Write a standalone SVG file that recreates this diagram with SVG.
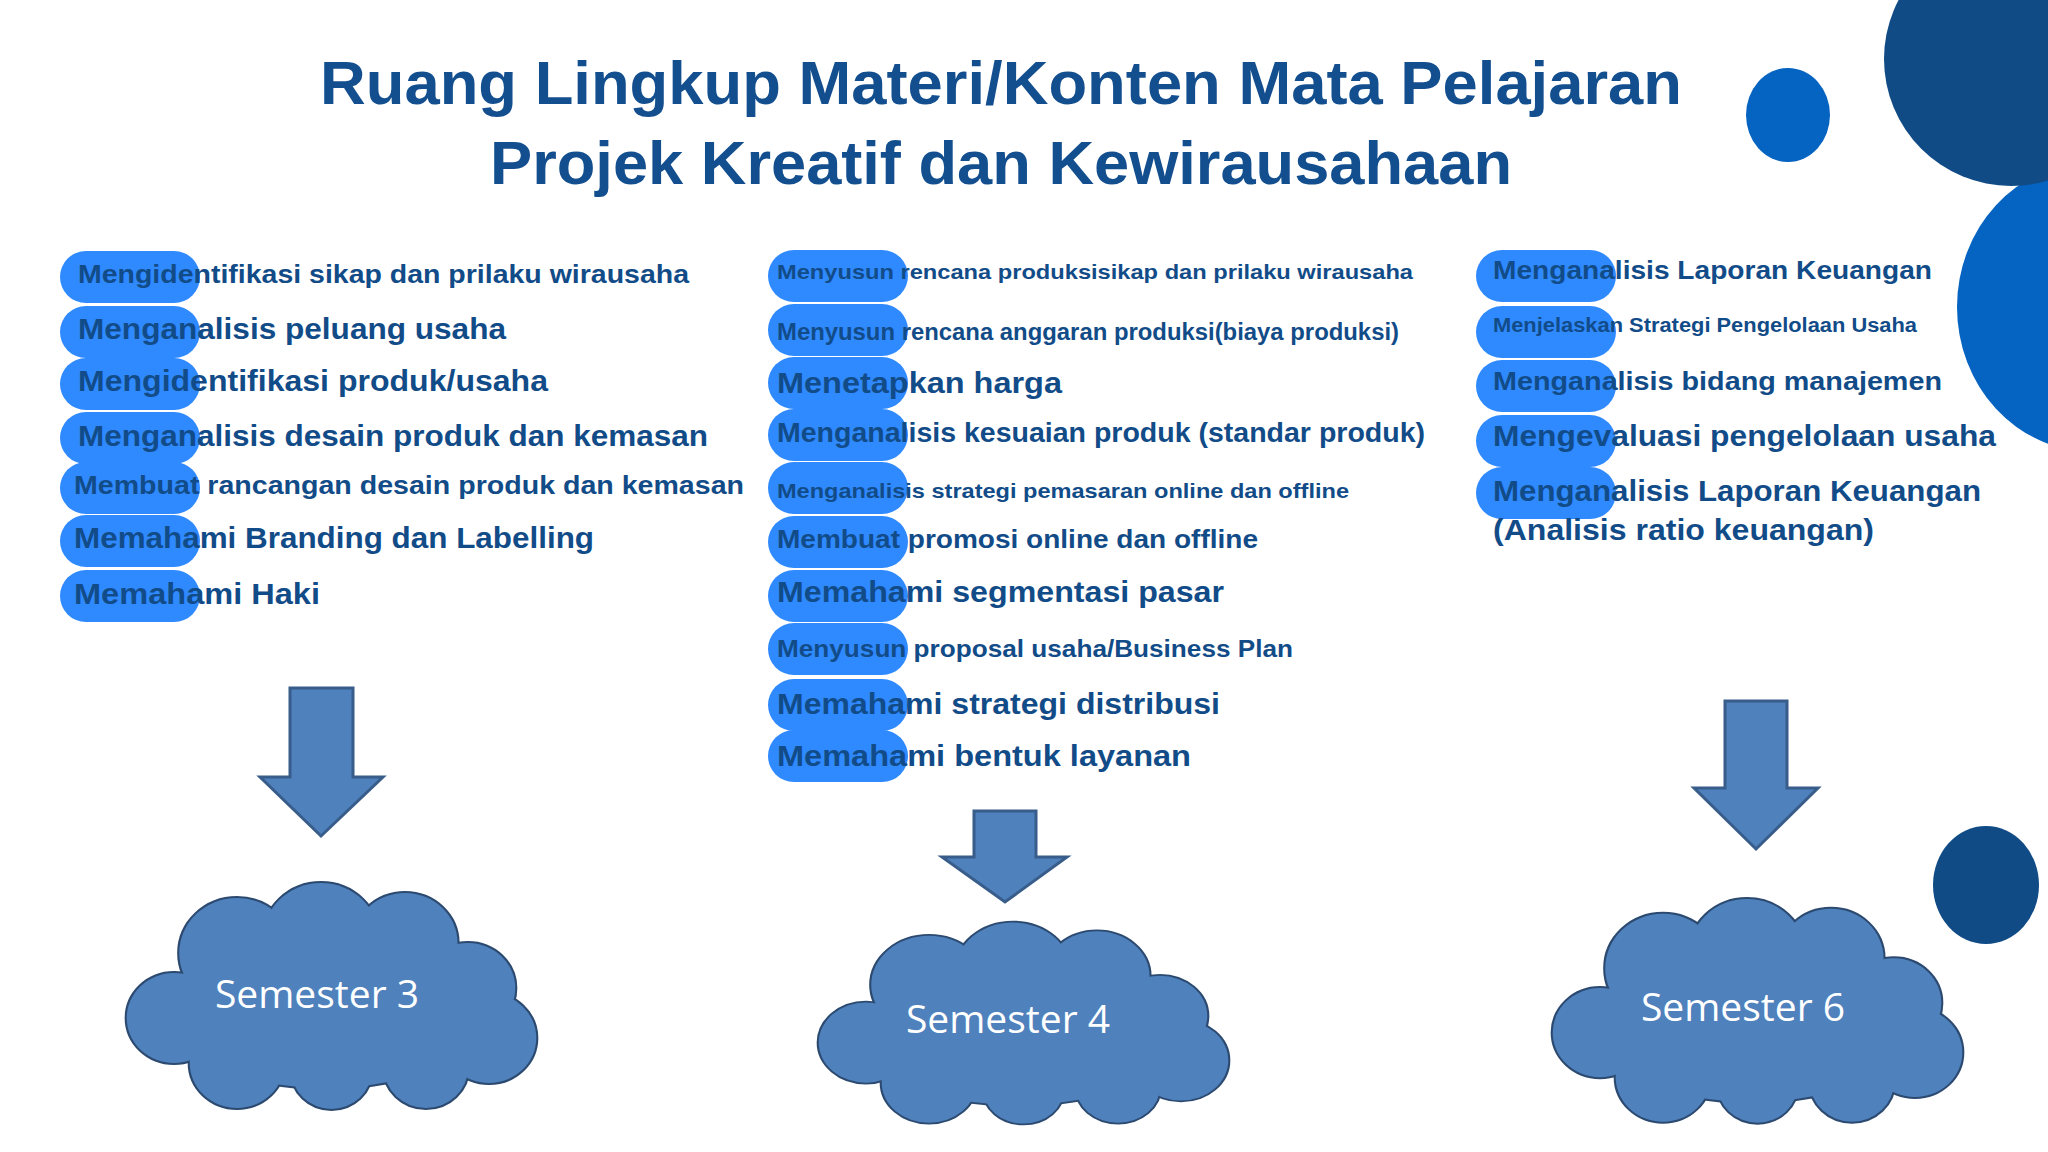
<svg xmlns="http://www.w3.org/2000/svg" xmlns:xlink="http://www.w3.org/1999/xlink" width="2048" height="1152" viewBox="0 0 2048 1152">
<style>
.t{font-family:"Liberation Sans",Arial,sans-serif;font-weight:bold;fill:#124c88}
.ti{font-family:"Liberation Sans",Arial,sans-serif;font-weight:bold;fill:#134f8f;font-size:62px}
.p{fill:#2f89ff}
.ar{fill:#4f81bd;stroke:#385d8a;stroke-width:3}
.cs{fill:#4f81bd;stroke:#2c4a70;stroke-width:4}
.cf{fill:#4f81bd}
.st{font-family:"Open Sans","Liberation Sans",sans-serif;font-size:39px;fill:#ffffff;text-anchor:middle}
</style>
<defs>
<g id="cloud">
<g class="cs">
<circle cx="60" cy="140" r="45"/><circle cx="120" cy="75" r="55"/><circle cx="200" cy="60" r="55"/><circle cx="280" cy="65" r="50"/><circle cx="340" cy="110" r="45"/><circle cx="360" cy="160" r="45"/><circle cx="300" cy="190" r="40"/><circle cx="210" cy="193" r="38"/><circle cx="120" cy="185" r="45"/><ellipse cx="205" cy="135" rx="150" ry="75"/>
</g>
<g class="cf">
<circle cx="60" cy="140" r="45"/><circle cx="120" cy="75" r="55"/><circle cx="200" cy="60" r="55"/><circle cx="280" cy="65" r="50"/><circle cx="340" cy="110" r="45"/><circle cx="360" cy="160" r="45"/><circle cx="300" cy="190" r="40"/><circle cx="210" cy="193" r="38"/><circle cx="120" cy="185" r="45"/><ellipse cx="205" cy="135" rx="150" ry="75"/>
</g>
</g>
</defs>
<rect width="2048" height="1152" fill="#ffffff"/>
<g id="decor">
<ellipse cx="2090" cy="307" rx="133" ry="144" fill="#0563c1"/>
<circle cx="2011" cy="59" r="127" fill="#114b86"/>
<ellipse cx="1788" cy="115" rx="42" ry="47" fill="#0563c1"/>
<ellipse cx="1986" cy="885" rx="53" ry="59" fill="#114b86"/>
</g>
<g id="title">
<text class="ti" x="320" y="104" textLength="1362" lengthAdjust="spacingAndGlyphs">Ruang Lingkup Materi/Konten Mata Pelajaran</text>
<text class="ti" x="490" y="184" textLength="1022" lengthAdjust="spacingAndGlyphs">Projek Kreatif dan Kewirausahaan</text>
</g>
<g id="col1">
<rect class="p" x="60" y="251" width="140" height="52" rx="26"/>
<rect class="p" x="60" y="306" width="140" height="52" rx="26"/>
<rect class="p" x="60" y="358" width="140" height="52" rx="26"/>
<rect class="p" x="60" y="412" width="140" height="52" rx="26"/>
<rect class="p" x="60" y="462" width="140" height="52" rx="26"/>
<rect class="p" x="60" y="515" width="140" height="52" rx="26"/>
<rect class="p" x="60" y="570" width="140" height="52" rx="26"/>
<text class="t" x="78" y="283" font-size="25" textLength="611" lengthAdjust="spacingAndGlyphs">Mengidentifikasi sikap dan prilaku wirausaha</text>
<text class="t" x="78" y="339" font-size="29" textLength="428" lengthAdjust="spacingAndGlyphs">Menganalisis peluang usaha</text>
<text class="t" x="78" y="391" font-size="29" textLength="470" lengthAdjust="spacingAndGlyphs">Mengidentifikasi produk/usaha</text>
<text class="t" x="78" y="446" font-size="29" textLength="630" lengthAdjust="spacingAndGlyphs">Menganalisis desain produk dan kemasan</text>
<text class="t" x="74" y="494" font-size="25" textLength="670" lengthAdjust="spacingAndGlyphs">Membuat rancangan desain produk dan kemasan</text>
<text class="t" x="74" y="548" font-size="29" textLength="520" lengthAdjust="spacingAndGlyphs">Memahami Branding dan Labelling</text>
<text class="t" x="74" y="604" font-size="29" textLength="246" lengthAdjust="spacingAndGlyphs">Memahami Haki</text>
</g>
<g id="col2">
<rect class="p" x="768" y="250" width="140" height="52" rx="26"/>
<rect class="p" x="768" y="304" width="140" height="52" rx="26"/>
<rect class="p" x="768" y="357" width="140" height="52" rx="26"/>
<rect class="p" x="768" y="409" width="140" height="52" rx="26"/>
<rect class="p" x="768" y="462" width="140" height="52" rx="26"/>
<rect class="p" x="768" y="516" width="140" height="52" rx="26"/>
<rect class="p" x="768" y="570" width="140" height="52" rx="26"/>
<rect class="p" x="768" y="623" width="140" height="52" rx="26"/>
<rect class="p" x="768" y="679" width="140" height="52" rx="26"/>
<rect class="p" x="768" y="730" width="140" height="52" rx="26"/>
<text class="t" x="777" y="279" font-size="21" textLength="636" lengthAdjust="spacingAndGlyphs">Menyusun rencana produksisikap dan prilaku wirausaha</text>
<text class="t" x="777" y="340" font-size="23" textLength="622" lengthAdjust="spacingAndGlyphs">Menyusun rencana anggaran produksi(biaya produksi)</text>
<text class="t" x="777" y="393" font-size="30" textLength="285" lengthAdjust="spacingAndGlyphs">Menetapkan harga</text>
<text class="t" x="777" y="442" font-size="28" textLength="648" lengthAdjust="spacingAndGlyphs">Menganalisis kesuaian produk (standar produk)</text>
<text class="t" x="777" y="498" font-size="21" textLength="572" lengthAdjust="spacingAndGlyphs">Menganalisis strategi pemasaran online dan offline</text>
<text class="t" x="777" y="548" font-size="26" textLength="481" lengthAdjust="spacingAndGlyphs">Membuat promosi online dan offline</text>
<text class="t" x="777" y="602" font-size="29" textLength="447" lengthAdjust="spacingAndGlyphs">Memahami segmentasi pasar</text>
<text class="t" x="777" y="657" font-size="24" textLength="516" lengthAdjust="spacingAndGlyphs">Menyusun proposal usaha/Business Plan</text>
<text class="t" x="777" y="714" font-size="29" textLength="443" lengthAdjust="spacingAndGlyphs">Memahami strategi distribusi</text>
<text class="t" x="777" y="766" font-size="29" textLength="414" lengthAdjust="spacingAndGlyphs">Memahami bentuk layanan</text>
</g>
<g id="col3">
<rect class="p" x="1476" y="250" width="140" height="52" rx="26"/>
<rect class="p" x="1476" y="306" width="140" height="52" rx="26"/>
<rect class="p" x="1476" y="360" width="140" height="52" rx="26"/>
<rect class="p" x="1476" y="415" width="140" height="52" rx="26"/>
<rect class="p" x="1476" y="467" width="140" height="52" rx="26"/>
<text class="t" x="1493" y="279" font-size="26" textLength="439" lengthAdjust="spacingAndGlyphs">Menganalisis Laporan Keuangan</text>
<text class="t" x="1493" y="332" font-size="20" textLength="424" lengthAdjust="spacingAndGlyphs">Menjelaskan Strategi Pengelolaan Usaha</text>
<text class="t" x="1493" y="390" font-size="26" textLength="449" lengthAdjust="spacingAndGlyphs">Menganalisis bidang manajemen</text>
<text class="t" x="1493" y="446" font-size="29" textLength="503" lengthAdjust="spacingAndGlyphs">Mengevaluasi pengelolaan usaha</text>
<text class="t" x="1493" y="501" font-size="29" textLength="488" lengthAdjust="spacingAndGlyphs">Menganalisis Laporan Keuangan</text>
<text class="t" x="1493" y="540" font-size="29" textLength="381" lengthAdjust="spacingAndGlyphs">(Analisis ratio keuangan)</text>
</g>
<g id="connectors">
<polygon class="ar" points="290,688 353,688 353,777 383,777 321,836 260,777 290,777"/>
<polygon class="ar" points="974,811 1036,811 1036,857 1067,857 1005,902 942,857 974,857"/>
<polygon class="ar" points="1725,701 1787,701 1787,788 1818,788 1756,849 1694,788 1725,788"/>
</g>
<g id="sem3">
<use xlink:href="#cloud" transform="translate(111,878) scale(1.05,1.0)"/>
<text class="st" x="317" y="1008">Semester 3</text>
</g>
<g id="sem4">
<use xlink:href="#cloud" transform="translate(803,918) scale(1.05,0.89)"/>
<text class="st" x="1008" y="1033">Semester 4</text>
</g>
<g id="sem6">
<use xlink:href="#cloud" transform="translate(1537,894) scale(1.05,0.99)"/>
<text class="st" x="1743" y="1021">Semester 6</text>
</g>
</svg>
